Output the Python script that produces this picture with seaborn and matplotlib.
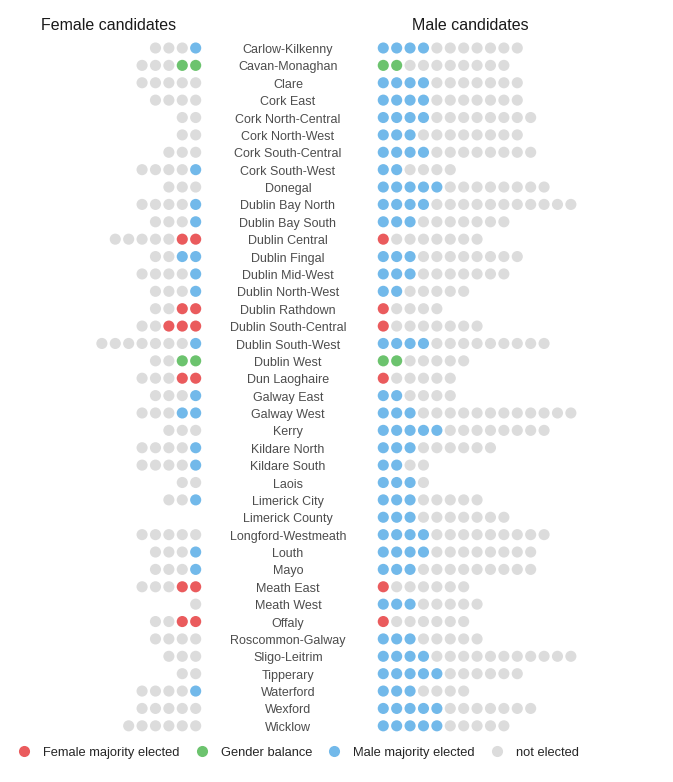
import matplotlib
matplotlib.use("Agg")
import matplotlib.pyplot as plt
import seaborn as sns
import pandas as pd

constituencies = [
    "Carlow-Kilkenny", "Cavan-Monaghan", "Clare", "Cork East", "Cork North-Central",
    "Cork North-West", "Cork South-Central", "Cork South-West", "Donegal",
    "Dublin Bay North", "Dublin Bay South", "Dublin Central", "Dublin Fingal",
    "Dublin Mid-West", "Dublin North-West", "Dublin Rathdown", "Dublin South-Central",
    "Dublin South-West", "Dublin West", "Dun Laoghaire", "Galway East", "Galway West",
    "Kerry", "Kildare North", "Kildare South", "Laois", "Limerick City",
    "Limerick County", "Longford-Westmeath", "Louth", "Mayo", "Meath East",
    "Meath West", "Offaly", "Roscommon-Galway", "Sligo-Leitrim", "Tipperary",
    "Waterford", "Wexford", "Wicklow",
]
female_total = [4, 5, 5, 4, 2, 2, 3, 5, 3, 5, 4, 7, 4, 5, 4, 4, 5, 8, 4, 5,
                4, 5, 3, 5, 5, 2, 3, 0, 5, 4, 4, 5, 1, 4, 4, 3, 2, 5, 5, 6]
female_elected = [1, 2, 0, 0, 0, 0, 0, 1, 0, 1, 1, 2, 2, 1, 1, 2, 3, 1, 2, 2,
                  1, 2, 0, 1, 1, 0, 1, 0, 0, 1, 1, 2, 0, 2, 0, 0, 0, 1, 0, 0]
male_total = [11, 10, 11, 11, 12, 11, 12, 6, 13, 15, 10, 8, 11, 10, 7, 5, 8, 13, 7, 6,
              6, 15, 13, 9, 4, 4, 8, 10, 13, 12, 12, 7, 8, 7, 8, 15, 11, 7, 12, 10]
male_elected = [4, 2, 4, 4, 4, 3, 4, 2, 5, 4, 3, 1, 3, 3, 2, 1, 1, 4, 2, 1,
                2, 3, 5, 3, 2, 3, 3, 3, 4, 4, 3, 1, 3, 1, 3, 4, 5, 3, 5, 5]

categories = ["Female majority elected", "Gender balance", "Male majority elected", "not elected"]
colors = ["#EA5B5D", "#6CC36E", "#72B9EA", "#DCDCDC"]

# layout constants (dot units, centre = label column)
F_OFF = 6.89
M_OFF = 7.11
PX_UNIT = 13.4
ROW_PX = 17.38
TOP_PX = 48.0
W, H = 673, 782
CX = 288

rows = []
for i, name in enumerate(constituencies):
    fe, me = female_elected[i], male_elected[i]
    if fe > me:
        cat = categories[0]
    elif fe == me:
        cat = categories[1]
    else:
        cat = categories[2]
    for k in range(female_total[i]):
        rows.append({"x": -k - F_OFF, "y": i, "status": cat if k < fe else categories[3]})
    for k in range(male_total[i]):
        rows.append({"x": k + M_OFF, "y": i, "status": cat if k < me else categories[3]})
df = pd.DataFrame(rows)

sns.set_theme(style="white")
plt.rcParams["font.family"] = ["Liberation Sans", "DejaVu Sans"]

fig = plt.figure(figsize=(W / 100, H / 100), dpi=100)
ax = fig.add_axes([0, 0, 1, 1])
sns.scatterplot(data=df, x="x", y="y", hue="status", hue_order=categories,
                palette=dict(zip(categories, colors)), s=64, linewidth=0, ax=ax)

ax.set_xlim(-CX / PX_UNIT, (W - CX) / PX_UNIT)
ax.set_ylim((H - TOP_PX) / ROW_PX, -TOP_PX / ROW_PX)
ax.axis("off")

for i, name in enumerate(constituencies):
    ax.text(0, i + 0.29, name, ha="center", va="baseline", fontsize=9, color="#4D4D4D")

fig.text(109 / W, 1 - 25 / H, "Female candidates", ha="center", va="center",
         fontsize=11.5, color="#1A1A1A")
fig.text(470 / W, 1 - 25 / H, "Male candidates", ha="center", va="center",
         fontsize=11.5, color="#1A1A1A")

handles, labels = ax.get_legend_handles_labels()
ax.get_legend().remove()
fig.legend(handles, labels, loc="center left", bbox_to_anchor=(17.6 / W, 1 - 753 / H),
           ncol=4, frameon=False, fontsize=9.3, handlelength=1.0, handletextpad=0.98,
           columnspacing=1.2, borderpad=0, borderaxespad=0, markerscale=1.0)

fig.savefig("out.png", dpi=100)
